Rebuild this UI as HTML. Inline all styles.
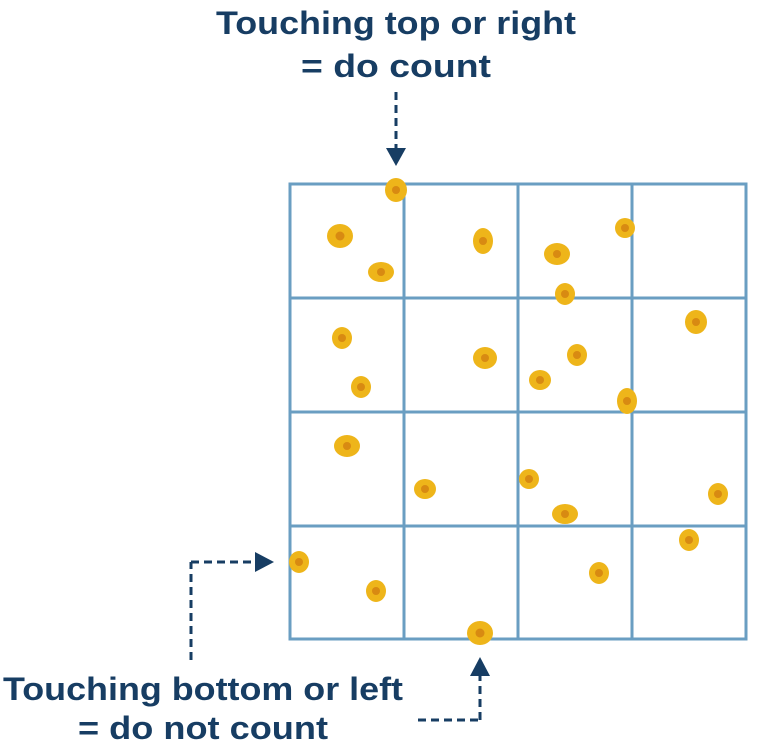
<!DOCTYPE html><html><head><style>body{margin:0;background:#fff}svg{display:block}</style></head><body>
<svg width="768" height="753" viewBox="0 0 768 753" xmlns="http://www.w3.org/2000/svg">
<g font-family="Liberation Sans, sans-serif" font-weight="bold" fill="#173d63" font-size="32">
<text x="396" y="34" text-anchor="middle" textLength="360" lengthAdjust="spacingAndGlyphs">Touching top or right</text>
<text x="396" y="77" text-anchor="middle" textLength="190" lengthAdjust="spacingAndGlyphs">= do count</text>
<text x="203" y="700" text-anchor="middle" textLength="400" lengthAdjust="spacingAndGlyphs">Touching bottom or left</text>
<text x="203" y="739" text-anchor="middle" textLength="250" lengthAdjust="spacingAndGlyphs">= do not count</text>
</g>
<g stroke="#173d63" stroke-width="3" stroke-dasharray="8,5" fill="none">
<line x1="396" y1="92" x2="396" y2="148"/>
<line x1="191" y1="660" x2="191" y2="562"/><line x1="191" y1="562" x2="256" y2="562"/>
<line x1="418" y1="720" x2="480" y2="720"/><line x1="480" y1="720" x2="480" y2="676"/>
</g>
<g fill="#173d63">
<polygon points="386,148 406,148 396,166"/>
<polygon points="255,552 255,572 274,562"/>
<polygon points="470,676 490,676 480,657"/>
</g>
<g stroke="#6a9ec2" stroke-width="3" fill="none">
<rect x="290" y="184" width="456" height="455"/>
<line x1="404" y1="184" x2="404" y2="639"/><line x1="518" y1="184" x2="518" y2="639"/><line x1="632" y1="184" x2="632" y2="639"/>
<line x1="290" y1="298" x2="746" y2="298"/><line x1="290" y1="412" x2="746" y2="412"/><line x1="290" y1="526" x2="746" y2="526"/>
</g>
<g id="c">
<g transform="translate(396,190)"><ellipse rx="11" ry="12" fill="#eeb51a"/><circle r="4" fill="#d88a12"/></g>
<g transform="translate(340,236)"><ellipse rx="13" ry="12" fill="#eeb51a"/><circle r="4.5" fill="#d88a12"/></g>
<g transform="translate(381,272)"><ellipse rx="13" ry="10" fill="#eeb51a"/><circle r="4" fill="#d88a12"/></g>
<g transform="translate(483,241)"><ellipse rx="10" ry="13" fill="#eeb51a"/><circle r="4" fill="#d88a12"/></g>
<g transform="translate(557,254)"><ellipse rx="13" ry="11" fill="#eeb51a"/><circle r="4" fill="#d88a12"/></g>
<g transform="translate(625,228)"><ellipse rx="10" ry="10" fill="#eeb51a"/><circle r="4" fill="#d88a12"/></g>
<g transform="translate(565,294)"><ellipse rx="10" ry="11" fill="#eeb51a"/><circle r="4" fill="#d88a12"/></g>
<g transform="translate(342,338)"><ellipse rx="10" ry="11" fill="#eeb51a"/><circle r="4" fill="#d88a12"/></g>
<g transform="translate(361,387)"><ellipse rx="10" ry="11" fill="#eeb51a"/><circle r="4" fill="#d88a12"/></g>
<g transform="translate(485,358)"><ellipse rx="12" ry="11" fill="#eeb51a"/><circle r="4" fill="#d88a12"/></g>
<g transform="translate(577,355)"><ellipse rx="10" ry="11" fill="#eeb51a"/><circle r="4" fill="#d88a12"/></g>
<g transform="translate(540,380)"><ellipse rx="11" ry="10" fill="#eeb51a"/><circle r="4" fill="#d88a12"/></g>
<g transform="translate(627,401)"><ellipse rx="10" ry="13" fill="#eeb51a"/><circle r="4" fill="#d88a12"/></g>
<g transform="translate(696,322)"><ellipse rx="11" ry="12" fill="#eeb51a"/><circle r="4" fill="#d88a12"/></g>
<g transform="translate(347,446)"><ellipse rx="13" ry="11" fill="#eeb51a"/><circle r="4" fill="#d88a12"/></g>
<g transform="translate(425,489)"><ellipse rx="11" ry="10" fill="#eeb51a"/><circle r="4" fill="#d88a12"/></g>
<g transform="translate(529,479)"><ellipse rx="10" ry="10" fill="#eeb51a"/><circle r="4" fill="#d88a12"/></g>
<g transform="translate(565,514)"><ellipse rx="13" ry="10" fill="#eeb51a"/><circle r="4" fill="#d88a12"/></g>
<g transform="translate(718,494)"><ellipse rx="10" ry="11" fill="#eeb51a"/><circle r="4" fill="#d88a12"/></g>
<g transform="translate(689,540)"><ellipse rx="10" ry="11" fill="#eeb51a"/><circle r="4" fill="#d88a12"/></g>
<g transform="translate(299,562)"><ellipse rx="10" ry="11" fill="#eeb51a"/><circle r="4" fill="#d88a12"/></g>
<g transform="translate(376,591)"><ellipse rx="10" ry="11" fill="#eeb51a"/><circle r="4" fill="#d88a12"/></g>
<g transform="translate(599,573)"><ellipse rx="10" ry="11" fill="#eeb51a"/><circle r="4" fill="#d88a12"/></g>
<g transform="translate(480,633)"><ellipse rx="13" ry="12" fill="#eeb51a"/><circle r="4.5" fill="#d88a12"/></g>
</g>
</svg>
</body></html>
